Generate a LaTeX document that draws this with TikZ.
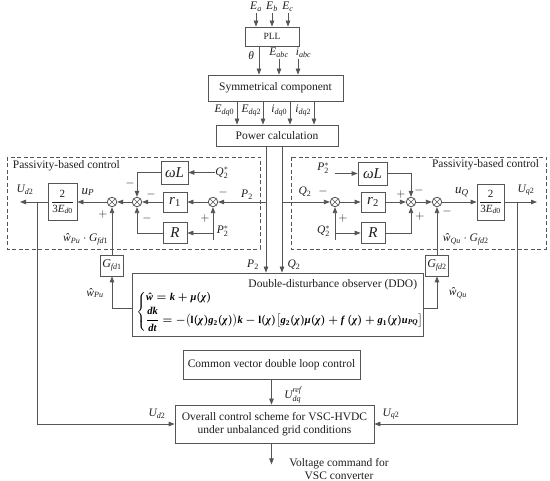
\documentclass[tikz,border=0pt]{standalone}
\usepackage{amsmath}
\usepackage{fontspec}
\setmainfont{Liberation Serif}
\usetikzlibrary{arrows.meta,calc}
\definecolor{lc}{RGB}{85,85,85}
\definecolor{tc}{RGB}{30,30,30}
\newsavebox{\myeqbox}
\newcommand{\ti}[1]{\textit{#1}}
\newcommand{\tu}[1]{\textup{#1}}
\newcommand{\tb}[1]{\textbf{\textit{#1}}}
\newcommand{\mygain}{$\dfrac{\tu{2}}{\tu{3}\ti{E}_{\ti{d}\tu{0}}}$}
\tikzset{
  box/.style={draw=lc, fill=white, inner sep=0pt, text=tc},
  sumn/.style={draw=lc, circle, minimum size=9.5pt, inner sep=0pt, line width=0.8pt,
    path picture={\draw[lc, line width=0.7pt] (path picture bounding box.north west) -- (path picture bounding box.south east) (path picture bounding box.south west) -- (path picture bounding box.north east);}},
  arr/.style={draw=lc, -{Triangle[length=6pt,width=4.5pt]}},
  lbl/.style={inner sep=0.5pt, text=tc, font=\fontsize{11.5}{12}\selectfont},
  txt/.style={inner sep=0.5pt, text=tc, font=\fontsize{11.5}{13.5}\selectfont},
  sgn/.style={inner sep=0pt, text=tc, font=\fontsize{12}{12}\selectfont},
  big/.style={font=\fontsize{15}{15}\selectfont},
  dbox/.style={draw=lc, dash pattern=on 4pt off 2.5pt}
}
\begin{document}
\sbox{\myeqbox}{\fontsize{10.5}{12}\selectfont\boldmath$\left\{\begin{array}{@{}l@{}}\tb{ŵ}=\tb{k}+\tb{μ}(\tb{χ})\\[3pt]
\displaystyle\frac{\tb{dk}}{\tb{dt}}=-\bigl(\textbf{l}(\tb{χ})\tb{g}_{\textbf{2}}(\tb{χ})\bigr)\tb{k}-\textbf{l}(\tb{χ})\bigl[\tb{g}_{\textbf{2}}(\tb{χ})\tb{μ}(\tb{χ})+\tb{f}\,(\tb{χ})+\tb{g}_{\textbf{1}}(\tb{χ})\tb{u}_{\tb{PQ}}\bigr]\end{array}\right.$}%
\begin{tikzpicture}[x=1pt,y=-1pt,line width=0.8pt,color=lc]
\useasboundingbox (0,0) rectangle (550,481);

% dashed frames
\draw[dbox] (7,157) rectangle (260,249);
\draw[dbox] (291,157) rectangle (546,249);
\node[txt, anchor=west] (pbcL) at (12,166) {Passivity-based control};
\node[txt, anchor=east] (pbcR) at (540,165) {Passivity-based control};

% top blocks
\node[lbl] (Ea) at (256,7) {$\ti{E}_{\ti{a}}$};
\node[lbl] (Eb) at (272,7) {$\ti{E}_{\ti{b}}$};
\node[lbl] (Ec) at (288,7) {$\ti{E}_{\ti{c}}$};
\node[box, minimum width=54pt, minimum height=19pt, font=\fontsize{9.5}{10}\selectfont] (pll) at (272,36.5) {PLL};
\node[box, minimum width=135pt, minimum height=26pt, font=\fontsize{11.5}{13}\selectfont] (sym) at (275.5,88) {Symmetrical component};
\node[box, minimum width=122pt, minimum height=21pt, font=\fontsize{11.5}{13}\selectfont] (pc) at (277,135.5) {Power calculation};

\draw[arr] (Ea) -- (Ea |- pll.north);
\draw[arr] (Eb) -- (Eb |- pll.north);
\draw[arr] (Ec) -- (Ec |- pll.north);

\coordinate (thp) at ([xshift=-13pt]pll.south);
\node[lbl, anchor=east] (th) at ($(thp)+(-4,9)$) {\ti{θ}};
\draw[arr] (thp) -- (thp |- sym.north);
\node[lbl] (eabc) at (279,53) {$\ti{E}_{\ti{abc}}$};
\draw[arr] (eabc) -- (eabc |- sym.north);
\node[lbl, anchor=west] (iabc) at (295,53) {$\ti{i}_{\ti{abc}}$};
\draw[arr] ([xshift=3pt]iabc.south west) -- ([xshift=3pt]iabc.south west |- sym.north);

\coordinate (o1) at ([xshift=-38.5pt]sym.south);
\coordinate (o2) at ([xshift=-12.5pt]sym.south);
\coordinate (o3) at ([xshift=14.5pt]sym.south);
\coordinate (o4) at ([xshift=38.5pt]sym.south);
\draw[arr] (o1) -- (o1 |- pc.north);
\draw[arr] (o2) -- (o2 |- pc.north);
\draw[arr] (o3) -- (o3 |- pc.north);
\draw[arr] (o4) -- (o4 |- pc.north);
\node[lbl, anchor=east] (ledq0) at ($(o1)+(-2,9)$) {$\ti{E}_{\ti{dq}\tu{0}}$};
\node[lbl, anchor=east] (ledq2) at ($(o2)+(-1,9)$) {$\ti{E}_{\ti{dq}\tu{2}}$};
\node[lbl, anchor=east] (lidq0) at ($(o3)+(-2,9)$) {$\ti{i}_{\ti{dq}\tu{0}}$};
\node[lbl, anchor=east] (lidq2) at ($(o4)+(-2,9)$) {$\ti{i}_{\ti{dq}\tu{2}}$};

% DDO and bottom blocks
\node[box, minimum width=291pt, minimum height=63pt] (ddo) at (277.5,304.5) {};
\node[txt, anchor=east] (ddot) at (418,285) {Double-disturbance observer (DDO)};
\node[inner sep=0pt, text=tc, anchor=west] (eq) at (136,312) {\usebox{\myeqbox}};
\node[box, minimum width=177pt, minimum height=29pt, font=\fontsize{11.5}{13}\selectfont] (cv) at (271.5,364.5) {Common vector double loop control};
\node[box, minimum width=199pt, minimum height=38pt, align=center, font=\fontsize{11.5}{13.5}\selectfont] (ov) at (274.5,424) {Overall control scheme for VSC-HVDC\\under unbalanced grid conditions};

\coordinate (pd) at ([xshift=-11pt]pc.south);
\coordinate (qd) at ([xshift=5pt]pc.south);
\draw[arr] (pd) -- (pd |- ddo.north);
\draw[arr] (qd) -- (qd |- ddo.north);
\node[lbl] (lp2d) at (253,265) {$\ti{P}_{\tu{2}}$};
\node[lbl] (lq2d) at (294,265) {$\ti{Q}_{\tu{2}}$};

% left passivity controller
\node[sumn] (s1) at (213,202) {};
\node[sumn] (s2) at (137,202) {};
\node[sumn] (s3) at (112,202) {};
\node[box, big, minimum width=24pt, minimum height=20pt] (r1) at (175,202) {$\ti{r}_{\tu{1}}$};
\node[box, big, minimum width=27pt, minimum height=23pt] (wL1) at (174.5,172.5) {\ti{ωL}};
\node[box, big, minimum width=24pt, minimum height=21pt] (R1) at (175,233) {\ti{R}};
\node[box, minimum width=29pt, minimum height=37pt, font=\fontsize{11}{12}\selectfont] (g1) at (62.5,202) {\mygain};
\node[box, minimum width=23pt, minimum height=21pt, font=\fontsize{12}{12}\selectfont] (G1) at (112,265.5) {$\ti{G}_{\ti{fd}\tu{1}}$};

\coordinate (pL) at (pd |- s1);
\draw[arr] (pL) -- (s1);
\draw[arr] (s1) -- (r1);
\draw[arr] (r1) -- (s2);
\draw[arr] (s2) -- (s3);
\draw[arr] (s3) -- (g1);
\coordinate (ud2e) at (20,202);
\draw[arr] (g1) -- (ud2e);
\node[lbl] (q2sL) at (222,172.5) {$\ti{Q}_{\tu{2}}^{*}$};
\draw[arr] (q2sL.west) -- (q2sL.west -| wL1.east);
\draw[arr] (wL1.west) -| (s2.north);
\draw[arr] (R1.west) -| (s2.south);
\coordinate (p2sb) at ($(s1)+(0,38)$);
\draw[arr] (p2sb) -- (s1.south);
\draw[arr] (s1 |- R1) -- (R1.east);
\node[lbl, anchor=west] (p2sL) at (216,231) {$\ti{P}_{\tu{2}}^{*}$};
\coordinate (dl) at ($(ddo.west)+(0,3.5)$);
\draw[arr] (dl) -| (G1.south);
\draw[arr] (G1.north) -- (s3.south);
\coordinate (ub) at (37,202);
\draw[arr] (ub) |- (ov.west);

\node[lbl] (lp2) at (247,195) {$\ti{P}_{\tu{2}}$};
\node[sgn] (m1) at (223,193) {$-$};
\node[sgn] (p1) at (205,219) {$+$};
\node[sgn] (m2) at (130,184) {$-$};
\node[sgn] (m3) at (151,195) {$-$};
\node[sgn] (m4) at (147,219) {$-$};
\node[sgn] (p3) at (103,215) {$+$};
\node[lbl, font=\fontsize{13}{13}\selectfont] (lup) at (88,192) {$\ti{u}_{\ti{P}}$};
\node[lbl] (lud2) at (25,190) {$\ti{U}_{\ti{d}\tu{2}}$};
\node[lbl, anchor=east] (lwpg) at (109,239) {$\ti{ŵ}_{\ti{Pu}}\cdot\ti{G}_{\ti{fd}\tu{1}}$};
\node[lbl] (lwp) at (95,293) {$\ti{ŵ}_{\ti{Pu}}$};

% right passivity controller
\node[sumn] (s4) at (335,202) {};
\node[sumn] (s5) at (411,202) {};
\node[sumn] (s6) at (437,202) {};
\node[box, big, minimum width=24pt, minimum height=20pt] (r2) at (373,202) {$\ti{r}_{\tu{2}}$};
\node[box, big, minimum width=29pt, minimum height=23pt] (wL2) at (372.5,173.5) {\ti{ωL}};
\node[box, big, minimum width=24pt, minimum height=21pt] (R2) at (373,233) {\ti{R}};
\node[box, minimum width=27pt, minimum height=36pt, font=\fontsize{11}{12}\selectfont] (g2) at (490.5,202) {\mygain};
\node[box, minimum width=23pt, minimum height=21pt, font=\fontsize{12}{12}\selectfont] (G2) at (437,265.5) {$\ti{G}_{\ti{fd}\tu{2}}$};

\coordinate (pR) at (qd |- s4);
\draw[arr] (pR) -- (s4);
\draw[arr] (s4) -- (r2);
\draw[arr] (r2) -- (s5);
\draw[arr] (s5) -- (s6);
\draw[arr] (s6) -- (g2);
\coordinate (uq2e) at (537,202);
\draw[arr] (g2) -- (uq2e);
\node[lbl, anchor=east] (p2sR) at (330,168) {$\ti{P}_{\tu{2}}^{*}$};
\draw[arr] (s4 |- wL2) -- (wL2.west);
\draw[arr] (wL2.east) -| (s5.north);
\draw[arr] (R2.east) -| (s5.south);
\coordinate (q2sb) at ($(s4)+(0,38)$);
\draw[arr] (q2sb) -- (s4.south);
\draw[arr] (s4 |- R2) -- (R2.west);
\node[lbl, anchor=east] (q2sR) at (331,231) {$\ti{Q}_{\tu{2}}^{*}$};
\coordinate (dr) at ($(ddo.east)+(0,3.5)$);
\draw[arr] (dr) -| (G2.south);
\draw[arr] (G2.north) -- (s6.south);
\coordinate (qb) at (517,202);
\draw[arr] (qb) |- (ov.east);

\node[lbl] (lq2) at (305,192) {$\ti{Q}_{\tu{2}}$};
\node[sgn] (m5) at (323,192) {$-$};
\node[sgn] (p5) at (343,219) {$+$};
\node[sgn] (p6) at (401,195) {$+$};
\node[sgn] (m6) at (419,191) {$-$};
\node[sgn] (p7) at (420,217) {$+$};
\node[sgn] (m7) at (447,212) {$-$};
\node[lbl, font=\fontsize{13}{13}\selectfont] (luq) at (462,192) {$\ti{u}_{\ti{Q}}$};
\node[lbl] (luq2) at (526,190) {$\ti{U}_{\ti{q}\tu{2}}$};
\node[lbl, anchor=west] (lwqg) at (442,239) {$\ti{ŵ}_{\ti{Qu}}\cdot\ti{G}_{\ti{fd}\tu{2}}$};
\node[lbl] (lwq) at (458,293) {$\ti{ŵ}_{\ti{Qu}}$};

% bottom
\draw[arr] (cv.south) -- (cv.south |- ov.north);
\node[lbl] (luref) at (293,395) {$\ti{U}_{\ti{dq}}^{\ti{ref}}$};
\coordinate (vout) at ($(cv.south |- ov.south)+(0,21)$);
\draw[arr] (cv.south |- ov.south) -- (vout);
\node[txt, align=center] (vtxt) at (339,469) {Voltage command for\\VSC converter};
\node[lbl] (lud2b) at (157,414) {$\ti{U}_{\ti{d}\tu{2}}$};
\node[lbl] (luq2b) at (391,414) {$\ti{U}_{\ti{q}\tu{2}}$};
\end{tikzpicture}
\end{document}
